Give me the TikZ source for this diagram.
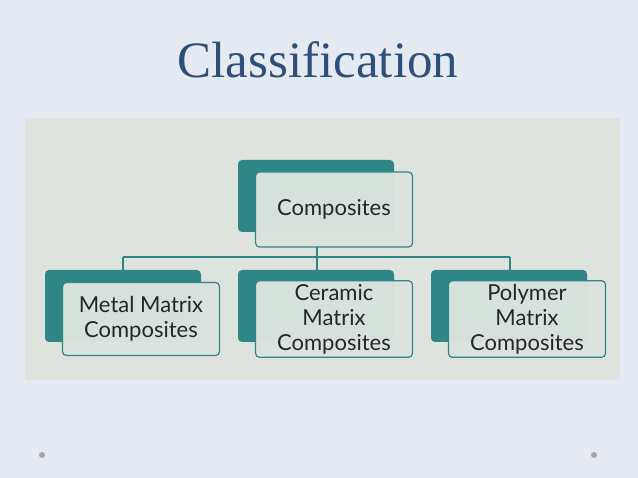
\documentclass[tikz,border=0pt]{standalone}
\usepackage{fontspec}
\setmainfont{Lato}
\newfontfamily\titlefont{Liberation Serif}
\begin{document}
\begin{tikzpicture}[x=1pt,y=-1pt,
  back/.style={fill=teal0,rounded corners=4pt},
  front/.style={draw=teal0,line width=1.2pt,fill=boxfill,fill opacity=0.97,text opacity=1,rounded corners=4pt},
  lbl/.style={align=center,font=\fontsize{22}{25}\selectfont,text=black!85},
  conn/.style={draw=teal0,line width=1.3pt}]
\definecolor{teal0}{HTML}{2F8686}
\definecolor{boxfill}{HTML}{DCE4DF}
\definecolor{bg}{HTML}{E5E9F1}
\definecolor{panel}{HTML}{DFE3DD}
\definecolor{titlecol}{HTML}{2E4F7A}
\fill[bg] (0,0) rectangle (638,478);
\useasboundingbox (0,0) rectangle (638,478);
\node[font=\titlefont\fontsize{51}{56}\selectfont,text=titlecol] (title) at (318,60) {Classification};
\fill[panel] (25,118) rectangle (620,380);
% top
\fill[back] (238,160) rectangle (394,232);
\node[front,minimum width=157pt,minimum height=75pt,lbl] (top) at (334,209.5) {Composites};
% bottom
\foreach \dx/\n/\t in {0/l/{Metal Matrix\\Composites},193/m/{Ceramic\\Matrix\\Composites},386/r/{Polymer\\Matrix\\Composites}}{
  \fill[back] (45+\dx,270) rectangle (201+\dx,342);
  \node[front,minimum width=157pt,minimum height=73pt,lbl] (\n) at (141+\dx,319) {\t};
}
\coordinate (j) at (317,257);
\coordinate (jl) at (123,257);
\coordinate (jr) at (510,257);
\draw[conn] (317,247) -- (j);
\draw[conn] (jl) -- (jr);
\draw[conn] (jl) -- (123,270);
\draw[conn] (j) -- (317,270);
\draw[conn] (jr) -- (510,270);
\fill[gray!70] (42,455) circle (3pt);
\fill[gray!70] (594,455) circle (3pt);
\end{tikzpicture}
\end{document}
